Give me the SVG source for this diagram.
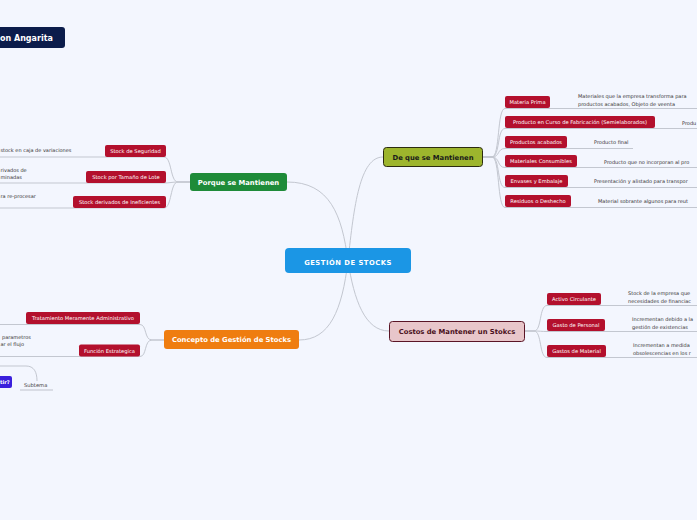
<svg xmlns="http://www.w3.org/2000/svg" width="697" height="520" viewBox="0 0 697 520">
<style>
.bg{fill:#f3f6fe}
.ln{fill:none;stroke:#c3c7d0;stroke-width:1}
.red{fill:#b3102d}
.rt{font-family:"DejaVu Sans",Verdana,sans-serif;font-size:5.2px;fill:#fff}
.dt{font-family:"DejaVu Sans",Verdana,sans-serif;font-size:5px;fill:#333}
.mt{font-family:"DejaVu Sans",Verdana,sans-serif;font-size:6.8px;font-weight:bold;text-anchor:middle}
</style>
<rect class="bg" x="0" y="0" width="697" height="520"/>
<g id="connectors">
<path class="ln" d="M348,261 C342,215 330,182 287,182"/>
<path class="ln" d="M348,261 C354,205 360,157 383,157"/>
<path class="ln" d="M348,261 C342,310 330,340 299,340"/>
<path class="ln" d="M348,261 C354,300 365,331 389,331"/>
<path class="ln" d="M190,182 H178 C170,182 172,157 164,157 H0"/>
<path class="ln" d="M190,182 H178 C172,182 170,183 164,183 H0"/>
<path class="ln" d="M190,182 H178 C170,182 172,208 164,208 H0"/>
<path class="ln" d="M482,157 H492 C500,157 497,108.5 505,108.5 H697"/>
<path class="ln" d="M482,157 H492 C500,157 497,128.5 505,128.5 H697"/>
<path class="ln" d="M482,157 H492 C500,157 497,148.5 505,148.5 H633"/>
<path class="ln" d="M482,157 H492 C500,157 497,167.5 505,167.5 H697"/>
<path class="ln" d="M482,157 H492 C500,157 497,187.5 505,187.5 H697"/>
<path class="ln" d="M482,157 H492 C500,157 497,207.5 505,207.5 H697"/>
<path class="ln" d="M524,331 H534 C542,331 539,305.5 547,305.5 H697"/>
<path class="ln" d="M524,331 H534 C540,331 541,331.5 547,331.5 H697"/>
<path class="ln" d="M524,331 H534 C542,331 539,357.5 547,357.5 H697"/>
<path class="ln" d="M164,340 H152 C144,340 147,324.5 140,324.5 H0"/>
<path class="ln" d="M164,340 H152 C144,340 147,356.5 140,356.5 H0"/>
<path class="ln" d="M0,366 H26 C34,366 37,372 37,381"/>
<path d="M20,390 H53" fill="none" stroke="#d0d3dc" stroke-width="1.5"/>
</g>
<g id="angarita">
<rect x="-10" y="27" width="75" height="21" rx="3" fill="#0b1c4b"/>
<text x="0" y="40.5" font-family="DejaVu Sans,Verdana,sans-serif" font-size="8px" font-weight="bold" fill="#fff">on Angarita</text>
</g>
<g id="center">
<rect x="285" y="248" width="126" height="25" rx="4" fill="#1b96e5"/>
<text class="mt" x="348" y="264.5" fill="#fff" font-size="9.2px" letter-spacing="0.5">GESTIÓN DE STOCKS</text>
</g>
<g id="porque">
<rect x="190" y="173" width="97" height="18" rx="3" fill="#1e8b39"/>
<text class="mt" x="238.5" y="184.5" fill="#fff">Porque se Mantienen</text>
</g>
<g id="dequese">
<rect x="383.5" y="147.5" width="99" height="19" rx="3" fill="#9db52d" stroke="#2b2b10" stroke-width="1"/>
<text class="mt" x="433" y="159.5" fill="#1a1a1a">De que se Mantienen</text>
</g>
<g id="costos">
<rect x="389.5" y="321.5" width="135" height="20" rx="3" fill="#e8c6ca" stroke="#5a1526" stroke-width="1"/>
<text class="mt" x="457" y="334" fill="#4a1020">Costos de Mantener un Stokcs</text>
</g>
<g id="concepto">
<rect x="164" y="330" width="135" height="19" rx="3" fill="#ef7d10"/>
<text class="mt" x="231.5" y="342" fill="#fff">Concepto de Gestión de Stocks</text>
</g>
<g id="seguridad">
<rect class="red" x="105" y="145" width="61" height="12" rx="2"/>
<text class="rt" x="135.5" y="153" text-anchor="middle">Stock de Seguridad</text>
<text class="dt" x="0.5" y="152">stock en caja de variaciones</text>
</g>
<g id="tamano">
<rect class="red" x="86" y="171" width="80" height="12" rx="2"/>
<text class="rt" x="126" y="179" text-anchor="middle">Stock por Tamaño de Lote</text>
<text class="dt" x="0.5" y="172">rivados de</text>
<text class="dt" x="0.5" y="179">minadas</text>
</g>
<g id="ineficientes">
<rect class="red" x="73" y="196" width="93" height="12" rx="2"/>
<text class="rt" x="119.5" y="204" text-anchor="middle">Stock derivados de Ineficientes</text>
<text class="dt" x="0.5" y="198">ra re-procesar</text>
</g>
<g id="materiaprima">
<rect class="red" x="505" y="96" width="45" height="12" rx="2"/>
<text class="rt" x="527.5" y="104" text-anchor="middle">Materia Prima</text>
<text class="dt" x="578" y="98">Materiales que la empresa transforma para</text>
<text class="dt" x="578" y="106">productos acabados, Objeto de veenta</text>
</g>
<g id="curso">
<rect class="red" x="505" y="116" width="150" height="12" rx="2"/>
<text class="rt" x="580" y="124" text-anchor="middle">Producto en Curso de Fabricación (Semielaborados)</text>
<text class="dt" x="682" y="125">Produ</text>
</g>
<g id="acabados">
<rect class="red" x="505" y="136" width="62" height="12" rx="2"/>
<text class="rt" x="536" y="144" text-anchor="middle">Productos acabados</text>
<text class="dt" x="594" y="144">Producto final</text>
</g>
<g id="consumibles">
<rect class="red" x="505" y="155" width="72" height="12" rx="2"/>
<text class="rt" x="541" y="163" text-anchor="middle">Materiales Consumibles</text>
<text class="dt" x="604" y="164">Producto que no incorporan al pro</text>
</g>
<g id="envases">
<rect class="red" x="505" y="175" width="63" height="12" rx="2"/>
<text class="rt" x="536.5" y="183" text-anchor="middle">Envases y Embalaje</text>
<text class="dt" x="594" y="183">Presentación y alistado para transpor</text>
</g>
<g id="residuos">
<rect class="red" x="505" y="195" width="66" height="12" rx="2"/>
<text class="rt" x="538" y="203" text-anchor="middle">Residuos o Deshecho</text>
<text class="dt" x="598" y="203">Material sobrante algunos para reut</text>
</g>
<g id="activo">
<rect class="red" x="547" y="293" width="54" height="12" rx="2"/>
<text class="rt" x="574" y="301" text-anchor="middle">Activo Circulante</text>
<text class="dt" x="628" y="295">Stock de la empresa que</text>
<text class="dt" x="628" y="303">necesidades de financiac</text>
</g>
<g id="personal">
<rect class="red" x="547" y="319" width="58" height="12" rx="2"/>
<text class="rt" x="576" y="327" text-anchor="middle">Gasto de Personal</text>
<text class="dt" x="632" y="321">Incrementan debido a la</text>
<text class="dt" x="632" y="329">gestión de existencias</text>
</g>
<g id="material">
<rect class="red" x="547" y="345" width="59" height="12" rx="2"/>
<text class="rt" x="576.5" y="353" text-anchor="middle">Gastos de Material</text>
<text class="dt" x="633" y="347">Incrementan a medida</text>
<text class="dt" x="633" y="355">obsolescencias en los r</text>
</g>
<g id="tratamiento">
<rect class="red" x="26" y="312" width="114" height="12" rx="2"/>
<text class="rt" x="83" y="320" text-anchor="middle">Tratamiento Meramente Administrativo</text>
</g>
<g id="funcion">
<rect class="red" x="79" y="344.5" width="61" height="12" rx="2"/>
<text class="rt" x="109.5" y="352.5" text-anchor="middle">Función Estrategica</text>
<text class="dt" x="2" y="339">parametros</text>
<text class="dt" x="0.5" y="346">ar el flujo</text>
</g>
<g id="tir">
<rect x="-10" y="376" width="22" height="12" rx="2" fill="#3a1fdc"/>
<text x="0" y="384" font-family="DejaVu Sans,Verdana,sans-serif" font-size="5.2px" font-weight="bold" fill="#fff">tir?</text>
</g>
<g id="subtema">
<text x="24" y="386.5" font-family="DejaVu Sans,Verdana,sans-serif" font-size="5.2px" fill="#444">Subtema</text>
</g>
</svg>
